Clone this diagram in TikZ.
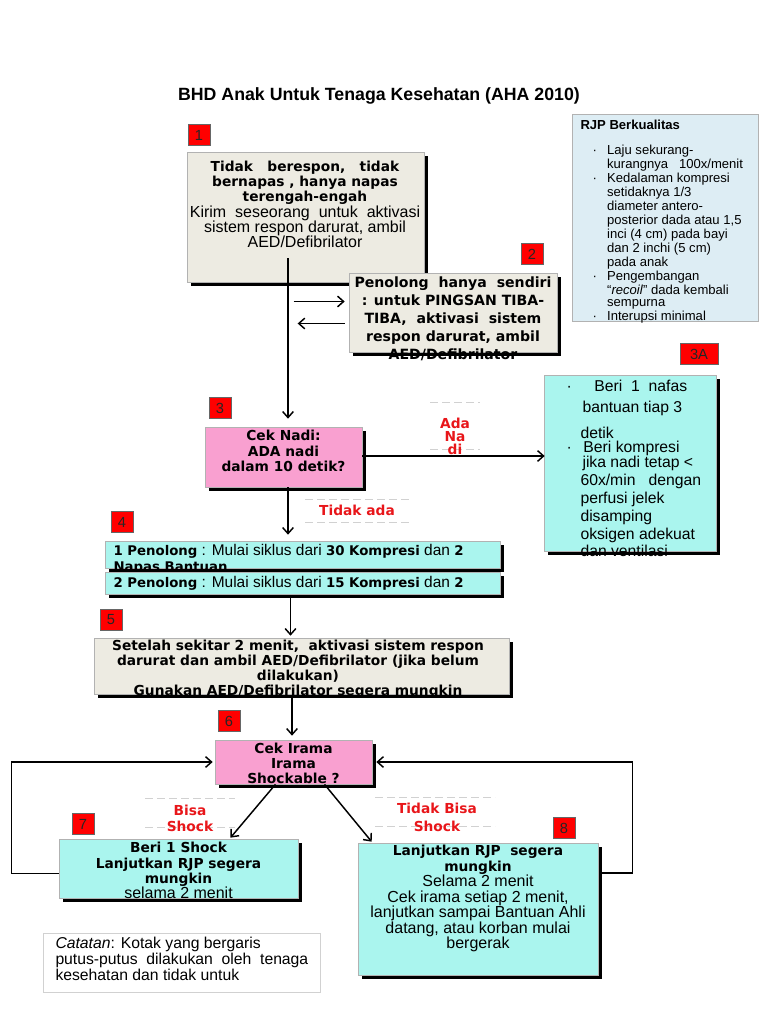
\documentclass[tikz,border=0pt]{standalone}
\usepackage{fontspec}
\setmainfont{Liberation Sans}
\newfontfamily\dejavu[Scale=0.86]{DejaVu Sans}
\usetikzlibrary{arrows.meta,fit,calc}

\definecolor{krem}{RGB}{237,235,226}
\definecolor{merahmuda}{RGB}{249,160,208}
\definecolor{tosca}{RGB}{170,245,238}
\definecolor{birumuda}{RGB}{221,237,244}
\definecolor{merahlabel}{RGB}{232,22,26}

\newcommand{\tb}[1]{{\dejavu\bfseries #1}}
\newcommand{\butir}{\hspace*{9pt}\makebox[11pt][l]{·}}
\newcommand{\sisip}{\hspace*{20pt}}
% kotak dengan bayangan hitam: nama, warna, x1, y1, x2, y2
\newcommand{\kotak}[6]{%
  \fill[black] ({#3+4},{#4+4}) rectangle ({#5+4},{#6+4});
  \node[kotakdasar, fill=#2, fit={(#3,#4) (#5,#6)}] (#1) {};}

\tikzset{every picture/.style={line width=0.75pt}}
\tikzset{
  kotakdasar/.style={draw=black!30, line width=0.5pt, inner sep=0pt},
  nomor/.style={fill=red, draw=black!60, line width=0.5pt, minimum width=16.5pt,
    minimum height=15.5pt, inner sep=0pt, font=\fontsize{11}{12}\selectfont, text=black!85},
  panah/.style={line width=1.1pt, -{Straight Barb[length=4.5pt,width=8pt]}},
  ketlabel/.style={text=merahlabel, align=center, inner sep=0pt},
  garisputus/.style={draw=black!18, dash pattern=on 6pt off 3pt, line width=0.75pt},
  isi/.style={align=center, inner sep=0pt, anchor=north}
}

\begin{document}
\begin{tikzpicture}[x=0.75pt,y=0.75pt,yscale=-1,xscale=1]
\useasboundingbox (0,0) rectangle (768,1024);

% Judul
\node[font=\bfseries\fontsize{13.3}{15}\selectfont] (judul) at (379,96) {BHD Anak Untuk Tenaga Kesehatan (AHA 2010)};

% RJP berkualitas
\node[fit={(572,114) (758,321)}, fill=birumuda, draw=black!30, line width=0.5pt, inner sep=0pt] (rjp) {};
\node[anchor=north west, align=left, inner sep=0pt, font=\fontsize{9.8}{10.5}\selectfont] (rjpteks) at (580,120) {%
\textbf{RJP Berkualitas}\\[8.2pt]
\butir Laju sekurang-\\
\sisip kurangnya\ \ \ 100x/menit\\
\butir Kedalaman kompresi\\
\sisip setidaknya 1/3\\
\sisip diameter antero-\\
\sisip posterior dada atau 1,5\\
\sisip inci (4 cm) pada bayi\\
\sisip dan 2 inchi (5 cm)\\
\sisip pada anak\\
\butir Pengembangan\\
\sisip ``\textit{recoil}'' dada kembali\\[-1.5pt]
\sisip sempurna\\
\butir Interupsi minimal};

% Kotak 1
\node[nomor] (n1) at (199,135) {1};
\kotak{k1}{krem}{187}{152}{424}{282}
\node[isi, font=\fontsize{12}{11.25}\selectfont] (t1) at (305,161) {%
\tb{Tidak\ \ \ berespon,\ \ \ tidak}\\
\tb{bernapas , hanya napas}\\
\tb{terengah-engah}\\[0.6pt]
Kirim\ \ seseorang\ \ untuk\ \ aktivasi\\
sistem respon darurat, ambil\\
AED/Defibrilator};

% Kotak 2
\node[nomor] (n2) at (532,254) {2};
\kotak{k2}{krem}{349}{273}{557}{352}
\node[isi, font=\fontsize{12.3}{13.5}\selectfont] (t2) at (453,276) {%
\tb{Penolong\ \ hanya\ \ sendiri}\\
\tb{: untuk PINGSAN TIBA-}\\
\tb{TIBA,\ \ aktivasi\ \ sistem}\\
\tb{respon darurat, ambil}\\
\tb{AED/Defibrilator}};

% Kotak 3
\node[nomor] (n3) at (220,408) {3};
\kotak{k3}{merahmuda}{205}{427}{362}{487}
\node[isi, font=\fontsize{12}{11.6}\selectfont] (t3) at (283.5,430) {%
\tb{Cek Nadi:}\\ \tb{ADA nadi}\\ \tb{dalam 10 detik?}};

% Kotak 3A
\node[nomor, minimum width=28.5pt] (n3a) at (699,354) {3A};
\kotak{k3a}{tosca}{544}{375}{716}{551}
\node[anchor=north west, align=left, inner sep=0pt, font=\fontsize{11.8}{13.5}\selectfont] (t3a) at (580,380) {%
\llap{\makebox[10.5pt][l]{·}}\hspace*{10.5pt}Beri\ \ 1\ \ nafas\\[2.2pt]
\hspace*{1.5pt}bantuan tiap 3\\[5.4pt]
detik\\[-2.6pt]
\llap{\makebox[10.5pt][l]{·}}\hspace*{2.2pt}Beri kompresi\\[-2.2pt]
\hspace*{1.5pt}jika nadi tetap <\\
60x/min\ \ \ dengan\\
perfusi jelek\\
disamping\\
oksigen adekuat\\[-0.8pt]
dan ventilasi};

% Kotak 4
\node[nomor] (n4) at (122,522) {4};
\kotak{k4a}{tosca}{105}{541}{500}{568}
\node[anchor=north west, align=left, inner sep=0pt, font=\fontsize{11.6}{12}\selectfont] (t4a) at (113,544) {%
\tb{1 Penolong} : Mulai siklus dari \tb{30 Kompresi} dan \tb{2}\\
\tb{Napas Bantuan}};
\kotak{k4b}{tosca}{105}{572}{500}{594}
\node[anchor=north west, align=left, inner sep=0pt, font=\fontsize{11.6}{12}\selectfont] (t4b) at (113,576) {%
\tb{2 Penolong} : Mulai siklus dari \tb{15 Kompresi} dan \tb{2}};

% Kotak 5
\node[nomor] (n5) at (111,620) {5};
\kotak{k5}{krem}{94}{638}{509}{694}
\node[isi, font=\fontsize{12}{11.25}\selectfont] (t5) at (298,640) {%
\tb{Setelah sekitar 2 menit,\ \ aktivasi sistem respon}\\
\tb{darurat dan ambil AED/Defibrilator (jika belum}\\
\tb{dilakukan)}\\
\tb{Gunakan AED/Defibrilator segera mungkin}};

% Kotak 6
\node[nomor] (n6) at (229,721) {6};
\kotak{k6}{merahmuda}{215}{740}{372}{784}
\node[isi, font=\fontsize{12}{11.25}\selectfont] (t6) at (293.5,743) {%
\tb{Cek Irama}\\ \tb{Irama}\\ \tb{Shockable ?}};

% Kotak 7
\node[nomor] (n7) at (83,824) {7};
\kotak{k7}{tosca}{59}{839}{298}{898}
\node[isi, font=\fontsize{12}{11.5}\selectfont] (t7) at (178.5,842) {%
\tb{Beri 1 Shock}\\ \tb{Lanjutkan RJP segera}\\ \tb{mungkin}\\ selama 2 menit};

% Kotak 8
\node[nomor] (n8) at (564,828) {8};
\kotak{k8}{tosca}{358}{843}{598}{975}
\node[isi, font=\fontsize{12}{11.6}\selectfont] (t8) at (478,845) {%
\tb{Lanjutkan RJP\ \ segera}\\ \tb{mungkin}\\ Selama 2 menit\\
Cek irama setiap 2 menit,\\ lanjutkan sampai Bantuan Ahli\\
datang, atau korban mulai\\ bergerak};

% Catatan
\node[fit={(43,933) (320,992)}, draw=black!18, line width=0.5pt, inner sep=0pt] (catatan) {};
\node[anchor=north west, align=left, inner sep=0pt, font=\fontsize{11.8}{12}\selectfont] (tcatatan) at (55,937) {%
\textit{Catatan}: Kotak yang bergaris\\
putus-putus\ \ dilakukan\ \ oleh\ \ tenaga\\
kesehatan dan tidak untuk};

% garis putus-putus di belakang label
\draw[garisputus] (430,402) -- (480,402);
\draw[garisputus] (430,449) -- (480,449);
\draw[garisputus] (305,499) -- (410,499);
\draw[garisputus] (305,522) -- (410,522);
\draw[garisputus] (145,798) -- (235,798);
\draw[garisputus] (145,827) -- (235,827);
\draw[garisputus] (375,797) -- (495,797);
\draw[garisputus] (375,826) -- (495,826);

% label merah
\node[ketlabel, font=\fontsize{12}{9.8}\selectfont] (ada) at (455,436) {\tb{Ada}\\ \tb{Na}\\ \tb{di}};
\node[ketlabel, font=\fontsize{12}{12}\selectfont] (tidakada) at (357,510) {\tb{Tidak ada}};
\node[ketlabel, font=\fontsize{12}{12}\selectfont] (bisa) at (190,818) {\tb{Bisa}\\ \tb{Shock}};
\node[ketlabel, font=\fontsize{12}{13.5}\selectfont] (tidakbisa) at (437,817) {\tb{Tidak Bisa}\\ \tb{Shock}};

% panah
\draw[panah] ($(k1.south -| k3.north)+(4.5,-24)$) -- ($(k3.north)+(4.5,-8)$);
\draw[panah] ($(k2.west)+(-55,-11)$) -- ($(k2.west)+(-4,-11)$);
\draw[panah] ($(k2.west)+(-4,11)$) -- ($(k2.west)+(-51,11)$);
\draw[panah] ($(k3.east)+(0,-1)$) -- ($(k3.east -| k3a.west)+(1,-1)$);
\draw[panah] ($(k3.south)+(4.5,0)$) -- ($(k3.south |- k4a.north)+(4.5,-6)$);
\draw[panah] ($(k4b.south)+(-12,2)$) -- ($(k4b.south |- k5.north)+(-12,-2)$);
\draw[panah] ($(k6.north |- k5.south)+(-1.5,3)$) -- ($(k6.north)+(-1.5,-4)$);
\draw[panah] ($(k6.south)+(-18,0)$) -- ($(k7.north)+(52,-1)$);
\draw[panah] ($(k6.south)+(31,0)$) -- ($(k8.north west)+(14,-1)$);
\draw[panah] ($(k7.west)+(0,5)$) -- ++(-47,0) |- ($(k6.west)+(-2,0)$);
\draw[panah] ($(k8.east)+(4,-36)$) -- ++(30,0) |- ($(k6.east)+(4,0)$);

\end{tikzpicture}
\end{document}
